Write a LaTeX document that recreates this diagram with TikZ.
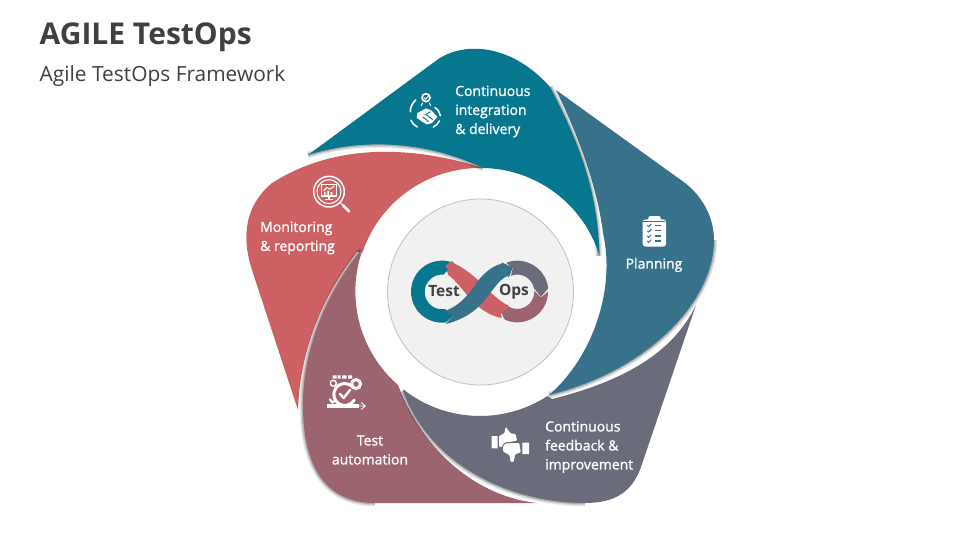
\documentclass[tikz,border=0pt]{standalone}
\usepackage{fontspec}
\setmainfont{Open Sans}
\newfontfamily\lblfont[FakeBold=1.2]{Open Sans}
\definecolor{cteal}{HTML}{07768F}
\definecolor{cplan}{HTML}{38728A}
\definecolor{cgray}{HTML}{6A6B7B}
\definecolor{cmar}{HTML}{9C646E}
\definecolor{cred}{HTML}{CD6063}
\definecolor{ctxt}{HTML}{404040}
\def\edgeTealBottom#1{#1 (308,155) .. controls (355,140) and (420,138) .. (483,168)}
\def\edgeTealRight#1{#1 (598.6,256) .. controls (598,190) and (578,140) .. (550,87)}
\def\edgePlanLow#1{#1 (714,240) .. controls (714,300) and (650,370) .. (549,395)}
\def\edgeGrayLow#1{#1 (585,503) .. controls (510,503) and (430,465) .. (403,391)}
\def\edgeMarLeft#1{#1 (361,250) .. controls (325,295) and (303,350) .. (303,405) .. controls (303,440) and (310,503) .. (375,503)}
\tikzset{
  x=1pt,y=-1pt,
  lbl/.style={text=white,font=\fontsize{14}{19}\selectfont\lblfont,inner sep=0pt},
  ctr/.style={text=ctxt,font=\fontsize{15.5}{18}\selectfont\bfseries,inner sep=0pt},
  ico/.style={draw=white,line width=1.6pt,line cap=round,line join=round},
}
\newcommand{\softshadow}[1]{%
  \draw[black,opacity=.07,line width=7pt] #1{};
  \draw[black,opacity=.10,line width=5pt] #1{};
  \draw[black,opacity=.18,line width=2.6pt] #1{};
}
\begin{document}
\begin{tikzpicture}
\useasboundingbox (0,0) rectangle (960,540);
\fill[white] (0,0) rectangle (960,540);
\node[anchor=west,inner sep=0pt,text=ctxt,font=\fontsize{30}{36}\selectfont\bfseries] (title) at (39.5,37.5) {AGILE TestOps};
\node[anchor=west,inner sep=0pt,text=ctxt,font=\fontsize{20.9}{25}\selectfont] (sub) at (39.5,76) {Agile TestOps Framework};
% red
\fill[cred] (480,292) ++(-89:124) arc[start angle=-89,end angle=-161,radius=124]
  -- (357,252) .. controls (322,297) and (300,350) .. (298,410)
  -- (252,270) .. controls (244,245) and (240,210) .. (272,183)
  .. controls (340,140) and (420,148) .. (483,168) -- cycle;
% maroon
\softshadow{\edgeMarLeft}
\fill[cmar] \edgeMarLeft{} -- (537,503)
  .. controls (480,497) and (425,455) .. (398,385)
  arc[start angle=131,end angle=199,radius=124] -- cycle;
% gray
\softshadow{\edgeGrayLow}
\fill[cgray] (480,292) ++(128:124) arc[start angle=128,end angle=57,radius=124]
  -- (552,399) .. controls (620,382) and (672,355) .. (696,305)
  -- (641,467) .. controls (632,492) and (615,503) .. (585,503)
  .. controls (510,503) and (430,465) .. (403,391) -- cycle;
% planning
\softshadow{\edgePlanLow}
\fill[cplan] (549,395) .. controls (592,358) and (616,290) .. (603,233)
  .. controls (597,185) and (578,135) .. (556,90)
  -- (685,183) .. controls (703,197) and (714,218) .. (714,240)
  .. controls (714,300) and (650,370) .. (549,395) -- cycle;
% teal
\softshadow{\edgeTealBottom}
\softshadow{\edgeTealRight}
\fill[cteal] (308,155) .. controls (355,140) and (420,138) .. (483,168)
  arc[start angle=-89,end angle=-17,radius=124]
  .. controls (598,190) and (578,140) .. (550,87)
  .. controls (510,42) and (462,42) .. (437,60) -- cycle;
% centre disc
\node[circle,draw=black!25,fill=black!5.5,line width=.8pt,minimum size=186pt,inner sep=0pt] (disc) at (480.5,292) {};
% infinity logo, in the coordinates of the 3x crop
\begin{scope}[shift={(380,180)},x=1pt/3,y=-1pt/3]
\fill[cred] (195,258) -- (215,243) -- (226,252) .. controls (260,268) and (295,300) .. (325,330)
  .. controls (345,350) and (365,368) .. (388,378) -- (362,395) -- (365,414)
  .. controls (330,408) and (295,385) .. (265,350) .. controls (245,325) and (225,300) .. (205,285) -- cycle;
\fill[cteal] (186,335) ++(-74:93) arc[start angle=-74,end angle=-277,radius=93]
  -- (218,408) -- (195,387) arc[start angle=80,end angle=275,radius=52]
  -- (203,270) -- (195,258) -- cycle;
\fill[cplan] (197,432) -- (218,408) -- (197,392)
  .. controls (235,378) and (262,350) .. (285,315) .. controls (305,285) and (335,258) .. (362,252)
  -- (367,248) -- (398,262) -- (387,292) -- (382,288)
  .. controls (355,300) and (340,330) .. (316,358) .. controls (285,398) and (240,422) .. (197,432) -- cycle;
\fill[cgray] (412,335) ++(-111:93) arc[start angle=-111,end angle=-6,radius=93]
  -- (483,350) -- (462,325) arc[start angle=-11,end angle=-112,radius=51]
  -- (398,265) -- cycle;
\fill[cmar] (412,335) ++(0:92) arc[start angle=0,end angle=114,radius=92]
  -- (362,395) -- (385,380) -- (398,385) arc[start angle=105,end angle=-3,radius=51.5]
  -- (483,352) -- cycle;
\end{scope}
\node[ctr] (test) at (444,291) {Test};
\node[ctr] (ops) at (514,291.5) {Ops};
% labels
\node[lbl,align=left,anchor=west] (l1) at (455,111.5) {Continuous\\integration\\\& delivery};
\node[lbl] (l2) at (654,265) {Planning};
\node[lbl,align=left,anchor=west] (l3) at (545,447) {Continuous\\feedback \&\\improvement};
\node[lbl,align=center] (l4) at (370,450) {Test\\automation};
\node[lbl,align=left,anchor=west] (l5) at (260,238) {Monitoring\\\& reporting};
% icon: handshake
\begin{scope}[shift={(400,85)},x=1pt/3,y=-1pt/3]
\draw[ico,line width=1.7pt] (78,38) circle (12);
\draw[ico,line width=.9pt] (72,38) -- (77,43) -- (85,33);
\draw[ico,line width=1pt] (68,54) -- (64,62) (88,54) -- (92,62);
\draw[ico] (47,45) .. controls (36,55) and (30,70) .. (31,80);
\draw[ico] (105,68) .. controls (114,74) and (120,82) .. (121,92);
\draw[ico] (33,106) .. controls (38,116) and (44,122) .. (52,126);
\draw[ico] (100,126) .. controls (108,122) and (114,116) .. (118,108);
\fill[white] (52,84) -- (78,70) -- (94,76) -- (112,96) -- (96,114) -- (80,118) -- (66,110) -- (50,98) -- cycle;
\draw[cteal,line width=.9pt] (74,90) -- (92,80) (68,96) -- (86,110) (80,90) -- (98,104);
\end{scope}
% icon: monitor under magnifier
\begin{scope}[shift={(305,170)},x=1pt/3,y=-1pt/3]
\draw[ico,line width=1.5pt] (72,65) circle (46);
\draw[ico,line width=1.1pt] (72,65) circle (36);
\draw[ico,line width=1.1pt] (50,44) rectangle (95,78);
\draw[ico,line width=1pt] (56,62) -- (66,52) -- (74,58) -- (88,48);
\fill[white] (57,66) rectangle (62,76) (67,62) rectangle (72,76) (77,66) rectangle (82,76);
\draw[ico,line width=1.1pt] (72,78) -- (72,88) (62,89) -- (83,89);
\draw[ico,line width=1.1pt] (106,98) -- (112,104);
\draw[ico,line width=2.6pt] (114,106) -- (132,124);
\end{scope}
% icon: clipboard
\begin{scope}[shift={(630,210)},x=1pt/3,y=-1pt/3]
\fill[white,rounded corners=3pt] (38,28) rectangle (108,110);
\fill[white,rounded corners=1.5pt] (55,18) rectangle (92,34);
\draw[cplan,line width=.7pt] (40,34) -- (106,34);
\foreach \yy in {46,62,78,93}{
  \draw[cplan,line width=1pt] (52,\yy) -- (56,{\yy+4}) -- (64,{\yy-4});
  \draw[cplan,line width=1.2pt] (76,\yy) -- (94,\yy);
}
\end{scope}
% icon: automation
\begin{scope}[shift={(320,370)},x=1pt/3,y=-1pt/3]
\fill[white] (38,16) rectangle (50,26) (53,16) rectangle (62,26) (66,16) rectangle (80,26) (84,16) rectangle (96,26);
\draw[ico,line width=3pt] (103,90) arc[start angle=30,end angle=320,radius=33];
\draw[ico,line width=1.5pt] (108,42) circle (11);
\draw[ico,line width=1.6pt,densely dotted] (108,42) circle (16);
\draw[ico,line width=1.5pt,densely dotted] (40,40) circle (9);
\draw[ico,line width=2.4pt] (60,72) -- (71,84) -- (90,60);
\fill[white] (22,103) rectangle (118,114);
\draw[ico,line width=.8pt] (108,108) -- (136,108) (124,98) -- (136,108) -- (124,118);
\draw[ico,line width=2.2pt] (30,88) -- (37,98) -- (47,90);
\end{scope}
% icon: thumbs
\begin{scope}[shift={(485,420)},x=1pt/3,y=-1pt/3]
\fill[white] (20,48) rectangle (38,85) (112,68) rectangle (132,102);
\fill[white,rounded corners=1pt] (62,20) -- (76,40) -- (92,42) -- (96,62) -- (60,68) -- (50,82) -- (42,80) -- (42,48) -- (58,40) -- cycle;
\fill[white,draw=cgray,line width=.9pt,rounded corners=1pt] (52,80) -- (60,69) -- (104,67) -- (109,98) -- (92,104) -- (87,128) -- (75,126) -- (72,106) -- (53,96) -- cycle;
\end{scope}
\end{tikzpicture}
\end{document}
